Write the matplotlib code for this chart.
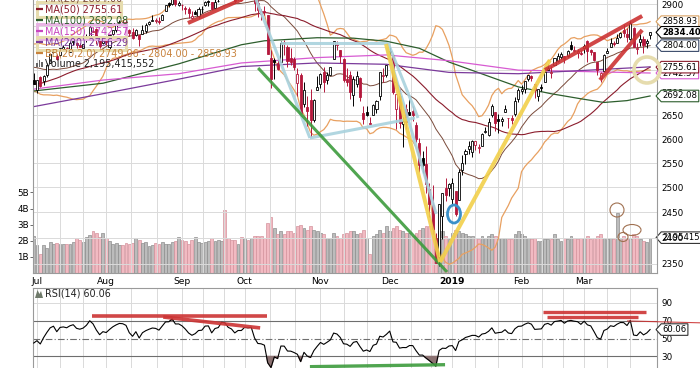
import numpy as np
import matplotlib
matplotlib.use("Agg")
import matplotlib.pyplot as plt
from matplotlib.path import Path
from matplotlib.patches import Ellipse, Rectangle, Polygon
import matplotlib.transforms as mtransforms
from matplotlib.ticker import NullLocator

# ---------------- data ----------------
warmup_closes = [  # Apr 2 .. Jun 28 2018 (for indicator warm-up only)
    2581.88, 2614.45, 2644.69, 2662.84, 2604.47, 2613.16, 2656.87, 2642.19, 2663.99, 2656.30,
    2677.84, 2706.39, 2708.64, 2693.13, 2670.14, 2670.29, 2634.56, 2639.40, 2666.94, 2669.91, 2648.05,
    2654.80, 2635.67, 2629.73, 2663.42, 2672.63, 2671.92, 2697.79, 2723.07, 2727.72, 2730.13, 2711.45,
    2722.46, 2720.13, 2712.97, 2733.01, 2724.44, 2733.29, 2727.76, 2721.33, 2689.86, 2724.01, 2705.27,
    2734.62, 2746.87, 2748.80, 2772.35, 2770.37, 2779.03, 2782.00, 2786.85, 2775.63, 2782.49, 2779.66,
    2773.75, 2762.59, 2767.32, 2749.76, 2754.88, 2717.07, 2723.06, 2699.63, 2716.31]

opens = [2727.13,
 2704.95, 2733.27, 2724.19, 2737.68, 2765.79, 2788.56, 2779.82, 2783.14, 2796.93, 2797.36, 2789.34, 2811.35, 2809.37, 2804.55, 2799.17, 2820.68, 2817.73, 2835.49, 2842.35, 2819.00, 2809.73,
 2821.17, 2800.48, 2829.62, 2840.29, 2855.92, 2856.79, 2857.19, 2838.90, 2835.46, 2827.88, 2827.95, 2831.44, 2838.32, 2853.93, 2861.51, 2860.99, 2860.29, 2862.35, 2884.69, 2901.45, 2900.62, 2908.94, 2898.37,
 2896.96, 2891.59, 2888.64, 2868.26, 2881.39, 2871.57, 2888.29, 2896.85, 2906.38, 2903.83, 2890.74, 2906.60, 2919.73, 2936.76, 2921.83, 2921.75, 2916.98, 2911.65, 2910.03,
 2926.29, 2923.80, 2931.69, 2919.35, 2902.54, 2877.53, 2882.51, 2873.90, 2776.87, 2770.54, 2763.83, 2767.05, 2811.67, 2802.00, 2775.66, 2773.94, 2721.03, 2737.87, 2674.88, 2667.86, 2682.65, 2640.68, 2705.60,
 2717.58, 2745.45, 2726.37, 2738.40, 2774.13, 2806.38, 2794.10, 2773.93, 2730.05, 2737.90, 2693.52, 2718.54, 2730.74, 2654.60, 2657.74, 2633.36, 2649.97, 2663.75, 2691.45, 2736.97, 2737.76,
 2790.50, 2782.43, 2663.51, 2691.26, 2630.86, 2664.44, 2658.23, 2658.70, 2629.68, 2590.75, 2559.90, 2547.05, 2496.77, 2465.38, 2400.56, 2363.12, 2442.50, 2498.77, 2498.94,
 2476.96, 2491.92, 2474.33, 2535.61, 2568.11, 2580.00, 2573.51, 2588.11, 2580.31, 2585.10, 2614.75, 2609.28, 2651.27, 2657.88, 2643.48, 2638.84, 2657.44, 2644.97, 2644.89, 2653.62, 2685.49,
 2702.32, 2706.49, 2728.34, 2735.05, 2717.53, 2692.36, 2712.40, 2722.61, 2750.30, 2743.50, 2760.24, 2769.28, 2779.05, 2780.67, 2780.24, 2804.35, 2792.36, 2787.50, 2788.11,
 2798.22, 2814.37, 2794.41, 2790.27, 2766.53, 2730.79, 2747.61, 2787.34, 2799.78, 2810.38, 2810.79, 2822.61, 2840.76, 2831.34, 2819.72, 2844.52, 2796.01, 2812.66, 2819.72, 2809.40, 2828.27]

highs = [2743.26,
 2727.26, 2736.58, 2737.83, 2764.41, 2784.65, 2795.58, 2785.91, 2799.22, 2804.53, 2801.19, 2814.19, 2816.76, 2812.05, 2809.70, 2808.61, 2829.99, 2848.03, 2845.57, 2843.17, 2821.74, 2824.46,
 2825.83, 2829.91, 2840.38, 2853.29, 2863.43, 2862.44, 2862.48, 2842.20, 2843.40, 2843.11, 2827.95, 2850.49, 2855.63, 2859.76, 2873.23, 2867.54, 2868.78, 2876.16, 2898.25, 2903.77, 2916.50, 2912.46, 2906.32,
 2900.18, 2894.21, 2892.05, 2883.81, 2886.93, 2892.52, 2894.65, 2906.76, 2908.30, 2904.65, 2911.17, 2912.36, 2934.80, 2940.91, 2923.79, 2923.95, 2931.15, 2927.22, 2920.53,
 2937.06, 2931.42, 2939.86, 2919.78, 2909.64, 2889.45, 2894.83, 2874.02, 2795.14, 2775.77, 2775.99, 2813.46, 2816.94, 2806.04, 2797.77, 2778.94, 2753.59, 2742.59, 2722.70, 2692.38, 2706.85, 2685.43, 2736.69,
 2741.67, 2756.55, 2744.27, 2756.82, 2815.15, 2814.75, 2794.10, 2775.99, 2754.60, 2746.80, 2735.38, 2746.75, 2733.16, 2669.44, 2670.73, 2647.55, 2674.35, 2682.53, 2744.00, 2753.75, 2760.88,
 2800.18, 2785.93, 2696.15, 2708.54, 2647.51, 2674.35, 2685.44, 2670.19, 2635.07, 2601.13, 2573.99, 2585.29, 2509.63, 2504.41, 2410.34, 2467.76, 2489.10, 2520.27, 2509.24,
 2519.49, 2493.14, 2538.07, 2566.16, 2579.82, 2595.32, 2597.82, 2596.27, 2589.32, 2613.08, 2625.76, 2645.06, 2675.47, 2657.88, 2653.19, 2647.20, 2672.38, 2644.97, 2650.93, 2690.44, 2708.95,
 2716.66, 2724.99, 2738.98, 2738.08, 2719.32, 2708.07, 2718.05, 2748.19, 2761.85, 2757.90, 2775.66, 2787.33, 2789.88, 2781.58, 2794.20, 2813.49, 2803.12, 2795.76, 2793.73,
 2808.02, 2816.88, 2796.44, 2790.27, 2767.25, 2744.13, 2784.00, 2798.32, 2821.24, 2815.00, 2830.73, 2835.41, 2852.42, 2843.54, 2860.31, 2846.16, 2809.79, 2829.87, 2825.56, 2819.71, 2836.03]

lows = [2718.03,
 2698.95, 2711.16, 2716.02, 2733.52, 2765.79, 2786.24, 2770.77, 2781.53, 2791.69, 2793.39, 2789.24, 2805.89, 2799.77, 2800.01, 2795.14, 2811.12, 2817.73, 2835.26, 2808.34, 2798.11, 2808.06,
 2805.85, 2796.34, 2827.37, 2835.98, 2855.92, 2853.09, 2851.98, 2825.81, 2819.88, 2826.58, 2802.49, 2831.44, 2833.73, 2850.62, 2861.32, 2856.05, 2854.03, 2862.35, 2884.69, 2893.50, 2898.40, 2895.22, 2895.77,
 2885.13, 2876.92, 2867.29, 2864.12, 2875.94, 2866.78, 2879.20, 2896.39, 2895.77, 2886.16, 2890.43, 2903.82, 2919.73, 2927.11, 2912.63, 2913.70, 2903.28, 2909.27, 2907.50,
 2917.91, 2919.37, 2921.36, 2883.92, 2869.29, 2862.08, 2874.27, 2784.86, 2710.51, 2729.44, 2749.03, 2766.91, 2781.81, 2755.18, 2760.27, 2749.22, 2691.43, 2651.89, 2667.84, 2628.16, 2603.54, 2635.34, 2705.60,
 2708.85, 2700.44, 2717.94, 2737.08, 2774.13, 2794.99, 2764.24, 2722.00, 2714.98, 2685.75, 2670.75, 2712.16, 2681.09, 2631.52, 2649.82, 2631.09, 2649.97, 2655.89, 2684.38, 2722.94, 2732.76,
 2773.38, 2697.18, 2621.53, 2623.14, 2583.23, 2621.30, 2650.26, 2637.27, 2593.84, 2530.54, 2528.71, 2488.96, 2441.18, 2408.55, 2351.10, 2346.58, 2397.94, 2472.89, 2482.82,
 2467.47, 2443.96, 2474.33, 2524.56, 2547.56, 2568.89, 2562.02, 2577.40, 2570.41, 2585.10, 2612.68, 2606.36, 2647.58, 2617.27, 2612.86, 2627.01, 2657.33, 2624.06, 2631.05, 2648.34, 2678.65,
 2696.88, 2698.75, 2724.03, 2724.15, 2687.26, 2681.83, 2703.79, 2722.61, 2748.63, 2731.23, 2760.24, 2767.29, 2774.06, 2764.55, 2779.11, 2794.99, 2789.47, 2775.13, 2782.51,
 2787.38, 2767.66, 2782.97, 2768.69, 2739.09, 2722.27, 2747.61, 2786.73, 2799.78, 2803.46, 2810.79, 2821.99, 2823.27, 2812.43, 2817.38, 2800.47, 2785.02, 2803.99, 2787.72, 2798.77, 2819.23]

closes = [2718.37,
 2726.71, 2713.22, 2736.61, 2759.82, 2784.17, 2793.84, 2774.02, 2798.29, 2801.31, 2798.43, 2809.55, 2815.62, 2804.49, 2801.83, 2806.98, 2820.40, 2846.07, 2837.44, 2818.82, 2802.60, 2816.29,
 2813.36, 2827.22, 2840.35, 2850.40, 2858.45, 2857.70, 2853.58, 2833.28, 2821.93, 2839.96, 2818.37, 2840.69, 2850.13, 2857.05, 2862.96, 2861.82, 2856.98, 2874.69, 2896.74, 2897.52, 2914.04, 2901.13, 2901.52,
 2896.72, 2888.60, 2878.05, 2871.68, 2877.13, 2887.89, 2888.92, 2904.18, 2904.98, 2888.80, 2904.31, 2907.95, 2930.75, 2929.67, 2919.37, 2915.56, 2905.97, 2914.00, 2913.98,
 2924.59, 2923.43, 2925.51, 2901.61, 2885.57, 2884.43, 2880.34, 2785.68, 2728.37, 2767.13, 2750.79, 2809.92, 2809.21, 2768.78, 2767.78, 2755.88, 2740.69, 2656.10, 2705.57, 2658.69, 2641.25, 2682.63, 2711.74,
 2740.37, 2723.06, 2738.31, 2755.45, 2813.89, 2806.83, 2781.01, 2726.22, 2722.18, 2701.58, 2730.20, 2736.27, 2690.73, 2641.89, 2649.93, 2632.56, 2673.45, 2682.17, 2743.79, 2737.80, 2760.17,
 2790.37, 2700.06, 2695.95, 2633.08, 2637.72, 2636.78, 2651.07, 2650.54, 2599.95, 2545.94, 2546.16, 2506.96, 2467.42, 2416.62, 2351.10, 2467.70, 2488.83, 2485.74, 2506.85,
 2510.03, 2447.89, 2531.94, 2549.69, 2574.41, 2584.96, 2596.64, 2596.26, 2582.61, 2610.30, 2616.10, 2635.96, 2670.71, 2632.90, 2638.70, 2642.33, 2664.76, 2643.85, 2640.00, 2681.05, 2704.10,
 2706.53, 2724.87, 2737.70, 2731.61, 2706.05, 2707.88, 2709.80, 2744.73, 2753.03, 2745.73, 2775.60, 2779.76, 2784.70, 2774.88, 2792.67, 2796.11, 2793.90, 2792.38, 2784.49,
 2803.69, 2792.81, 2789.65, 2771.45, 2748.93, 2743.07, 2783.30, 2791.52, 2810.92, 2808.48, 2822.48, 2832.94, 2832.57, 2824.23, 2854.88, 2800.71, 2798.36, 2818.46, 2805.37, 2815.44, 2834.40]

volumes_b = [  # billions of shares
 2.29, 1.77, 1.17, 1.71, 1.58, 1.92, 1.79, 1.88, 1.83, 1.83, 1.79, 1.83, 1.94, 2.15, 2.08, 1.94, 2.25, 2.35, 2.60, 2.46,
 2.25, 2.46, 2.15, 1.98, 1.83, 1.88, 1.71, 1.73, 1.85, 1.83, 1.88, 2.15, 2.04, 1.88, 1.94, 1.67, 1.73, 1.88, 1.83, 1.94,
 1.83, 1.83, 1.94, 1.98, 2.25, 2.04, 1.98, 1.83, 2.04, 2.21, 1.94, 1.88, 1.92, 1.98, 2.15, 1.98, 2.04, 2.00, 3.90, 2.15,
 2.08, 2.08, 1.83, 2.21,
 2.15, 2.08, 2.20, 2.30, 2.30, 2.30, 2.20, 3.10, 3.50, 2.80, 2.40, 2.60, 2.40, 2.60, 2.60, 2.50, 2.90, 3.00, 2.80, 2.70, 2.90, 2.70, 2.60,
 2.50, 2.40, 2.20, 2.20, 2.50, 2.30, 2.20, 2.40, 2.50, 2.60, 2.60, 2.40, 2.50, 2.70, 2.20, 1.20, 2.30, 2.40, 2.70, 2.50, 2.90,
 2.60, 2.80, 2.90, 2.70, 2.60, 2.50, 2.50, 2.30, 2.50, 2.70, 2.80, 2.90, 2.90, 3.80, 1.50, 2.60, 2.60, 2.30, 2.10,
 2.50, 2.70, 2.60, 2.50, 2.40, 2.30, 2.30, 2.20, 2.10, 2.30, 2.20, 2.30, 2.40, 2.30, 2.20, 2.20, 2.20, 2.10, 2.10, 2.40, 2.60,
 2.40, 2.30, 2.20, 2.10, 2.20, 2.00, 2.00, 2.10, 2.10, 2.10, 2.40, 2.10, 2.00, 2.20, 2.10, 2.30, 2.20, 2.10, 2.20,
 2.20, 2.30, 2.10, 2.20, 2.30, 2.40, 2.20, 2.10, 2.20, 2.10, 3.70, 2.20, 2.30, 2.20, 2.10, 2.40, 2.30, 2.10, 2.00, 1.90, 2.195]

# slow moving averages (trading-day index, value)
ma100_idx = [0, 21, 44, 63, 70, 86, 97, 107, 117, 126, 137, 147, 157, 166, 173, 180, 187]
ma100_vals = [2703, 2720, 2763, 2806, 2815, 2822, 2821, 2814, 2798, 2767, 2738, 2712, 2697, 2686, 2678, 2682, 2692.08]
ma150_idx = [0, 21, 44, 63, 86, 107, 126, 147, 166, 187]
ma150_vals = [2707, 2727, 2741, 2765, 2777, 2783, 2770, 2749, 2746, 2742.57]
ma200_idx = [0, 21, 44, 63, 86, 107, 126, 147, 166, 187]
ma200_vals = [2669, 2697, 2729, 2757, 2765, 2762, 2744, 2741, 2748, 2756.29]

month_idx = [1, 22, 45, 64, 87, 108, 127, 148, 167]
month_labels = ["Jul", "Aug", "Sep", "Oct", "Nov", "Dec", "2019", "Feb", "Mar"]

# hand-drawn trend lines: (idx0, price0, idx1, price1, colour, width)
price_trendlines = [
    (46.8, 2855.8, 66.2, 2921.3, "#cc3333", 2.9),
    (66.8, 2923.6, 83.8, 2602.1, "#a9d2dd", 2.2),
    (74.7, 2810.0, 107.5, 2810.0, "#a9d2dd", 2.2),
    (83.8, 2602.1, 115.7, 2644.6, "#a9d2dd", 2.2),
    (107.5, 2810.0, 116.6, 2644.6, "#a9d2dd", 2.2),
    (107.2, 2798.6, 122.1, 2447.0, "#a9d2dd", 2.2),
    (68.1, 2753.7, 125.4, 2334.8, "#3d9b3d", 2.2),
    (106.9, 2807.7, 123.3, 2353.7, "#f2d04a", 2.9),
    (123.3, 2353.7, 156.6, 2771.6, "#f2d04a", 2.9),
    (155.1, 2749.3, 184.6, 2872.1, "#cc3333", 2.9),
    (171.8, 2727.0, 184.6, 2839.7, "#cc3333", 2.9),
]
rsi_trendlines = [
    (17.7, 75.2, 70.8, 75.2, "#cc3333", 2.6),
    (39.3, 74.1, 68.7, 61.9, "#cc3333", 2.6),
    (154.5, 79.7, 185.8, 79.7, "#cc3333", 2.4),
    (155.7, 74.1, 183.3, 74.1, "#cc3333", 2.4),
    (180.0, 69.7, 202.2, 67.6, "#cc3333", 0.8),
    (83.8, 18.6, 124.8, 20.8, "#3d9b3d", 2.4),
]

# ---------------- indicators ----------------
closes_a = np.array(closes)
all_c = np.array(warmup_closes + closes)
nw = len(warmup_closes)
n = len(closes)
assert len(opens) == n and len(highs) == n and len(lows) == n and len(volumes_b) == n
x = np.arange(n)

def sma(k):
    return np.array([all_c[nw + i - k + 1: nw + i + 1].mean() for i in range(n)])

ma20 = sma(20)
sd20 = np.array([all_c[nw + i - 19: nw + i + 1].std() for i in range(n)])
bb_up = ma20 + 2 * sd20
bb_lo = ma20 - 2 * sd20
ma50 = sma(50)

d = np.diff(all_c)
g = np.clip(d, 0, None)
l_ = np.clip(-d, 0, None)
ag, al = g[:14].mean(), l_[:14].mean()
rsi_all = [np.nan] * 15
for k in range(14, len(d)):
    ag = (ag * 13 + g[k]) / 14
    al = (al * 13 + l_[k]) / 14
    rsi_all.append(100 - 100 / (1 + ag / al))
rsi = np.array(rsi_all[nw:])

prev = np.array([warmup_closes[-1]] + closes[:-1])
down = closes_a < prev

# ---------------- figure ----------------
W, H = 700, 368
fig = plt.figure(figsize=(7, 3.68), dpi=100)
plt.rcParams["font.family"] = ["DejaVu Sans"]

def fx(px):
    return px / W

def fy(py):
    return 1 - py / H

XL = (-0.21, 189.1)
RED = "#b4183c"
GRID = "#dadada"
FS = 6.3

ax = fig.add_axes([fx(33), fy(273), fx(657) - fx(33), fy(-21) - fy(273)])
axv = ax.twinx()
ax.set_zorder(3)
axv.set_zorder(2)
ax.patch.set_visible(False)

ax.set_yscale("log")
ax.set_ylim(2332.9, 2959.3)
ax.set_xlim(*XL)
ticks = list(range(2350, 2951, 50))
ax.yaxis.set_minor_locator(NullLocator())
ax.set_yticks(ticks)
ax.set_yticklabels([str(t) for t in ticks])
ax.yaxis.tick_right()
ax.tick_params(axis="y", length=0, pad=3, labelsize=FS)
ax.set_xticks(month_idx)
ax.set_xticklabels(month_labels)
ax.tick_params(axis="x", length=0, pad=3, labelsize=FS + 0.3)
for lab in ax.get_xticklabels():
    if lab.get_text() == "2019":
        lab.set_fontweight("bold")
for s in ax.spines.values():
    s.set_color("#9a9a9a")
    s.set_linewidth(0.8)
for s in axv.spines.values():
    s.set_visible(False)

# grid lines
grid_x = []
bounds = month_idx + [188]
for a, b in zip(bounds[:-1], bounds[1:]):
    grid_x += [a, a + (b - a) / 3, a + 2 * (b - a) / 3]
for gx in grid_x:
    ax.axvline(gx, color=GRID, lw=0.7, zorder=0)
for t in ticks:
    ax.axhline(t, color=GRID, lw=0.7, zorder=0)

# volume
axv.set_ylim(0, 18.26)
axv.set_xlim(*XL)
vcol = np.where(down, "#f2bac2", "#bcbcbc")
vedge = np.where(down, "#d4939d", "#8e8e8e")
axv.bar(x, volumes_b, width=0.86, color=vcol, edgecolor=vedge, linewidth=0.5)
axv.yaxis.tick_left()
axv.set_yticks([1, 2, 3, 4, 5])
axv.set_yticklabels(["1B", "2B", "3B", "4B", "5B"])
axv.tick_params(axis="y", length=2, width=0.6, pad=1, labelsize=FS, color="#555555")

# indicator lines
ax.plot(x, bb_up, color="#e8a060", lw=0.9, zorder=2)
ax.plot(x, bb_lo, color="#e8a060", lw=0.9, zorder=2)
ax.plot(x, ma20, color="#7a4a3a", lw=0.7, zorder=2)
ax.plot(x, ma50, color="#8b1c2c", lw=0.8, zorder=2)
ax.plot(ma100_idx, ma100_vals, color="#2d5e2d", lw=0.9, zorder=2)
ax.plot(ma150_idx, ma150_vals, color="#d75bd2", lw=0.9, zorder=2)
ax.plot(ma200_idx, ma200_vals, color="#7b3a9b", lw=0.9, zorder=2)

# candles
ccol = np.where(down, RED, "black")
ax.vlines(x, lows, highs, colors=ccol, lw=0.7, zorder=4)
o_a = np.array(opens)
body_lo = np.minimum(o_a, closes_a)
body_h = np.maximum(np.abs(closes_a - o_a), 0.8)
hollow = closes_a > o_a
face = [("white" if h else c) for h, c in zip(hollow, ccol)]
ax.bar(x, body_h, bottom=body_lo, width=0.62, color=face, edgecolor=ccol, linewidth=0.6, zorder=5)

# trend lines
for i0, p0, i1, p1, c, w in price_trendlines:
    ax.plot([i0, i1], [p0, p1], color=c, lw=w, solid_capstyle="butt", alpha=0.9, zorder=6, clip_on=False)

# ---------------- RSI panel ----------------
rax = fig.add_axes([fx(33), fy(392), fx(657) - fx(33), fy(288) - fy(392)])
rax.set_xlim(*XL)
rax.set_ylim(-9.7, 106.5)
for gx in grid_x:
    rax.axvline(gx, color=GRID, lw=0.7, zorder=0)
for lv in [10, 90]:
    rax.axhline(lv, color=GRID, lw=0.7, zorder=0)
rax.axhline(70, color="#6e6e6e", lw=0.8, zorder=1)
rax.axhline(30, color="#6e6e6e", lw=0.8, zorder=1)
rax.axhline(50, color="#6e6e6e", lw=0.8, ls=(0, (6, 2, 1, 2)), zorder=1)
rax.fill_between(x, rsi, 30, where=rsi < 30, interpolate=True, color="#8c7272", zorder=2)
rax.fill_between(x, rsi, 70, where=rsi > 70, interpolate=True, color="#8c7272", zorder=2)
rax.plot(x, rsi, color="black", lw=0.8, zorder=3)
rax.set_xticks([])
rax.yaxis.tick_right()
rax.set_yticks([30, 50, 70, 90])
rax.tick_params(axis="y", length=0, pad=3, labelsize=FS)
for s in rax.spines.values():
    s.set_color("#9a9a9a")
    s.set_linewidth(0.8)
rax.spines["bottom"].set_visible(False)
for i0, v0, i1, v1, c, w in rsi_trendlines:
    rax.plot([i0, i1], [v0, v1], color=c, lw=w, solid_capstyle="butt", alpha=0.9, zorder=6, clip_on=False)

# ---------------- value tags on the right ----------------
def tag_box(x0, y0, width, height, mutation_size):
    pad = 0.15 * mutation_size
    x0p, y0p = x0 - pad, y0 - pad
    w, h = width + 2 * pad, height + 2 * pad
    tip = h * 0.45
    verts = [(x0p, y0p), (x0p + w, y0p), (x0p + w, y0p + h), (x0p, y0p + h),
             (x0p - tip, y0p + h / 2), (x0p, y0p), (x0p, y0p)]
    codes = [Path.MOVETO] + [Path.LINETO] * 5 + [Path.CLOSEPOLY]
    return Path(verts, codes)

def tag(axis, val, text, ec, bold=False):
    tr = mtransforms.blended_transform_factory(axis.transAxes, axis.transData)
    tr = tr + mtransforms.ScaledTranslation(5.5 / 100, 0, fig.dpi_scale_trans)
    axis.text(1.0, val, text, transform=tr, ha="left", va="center", fontsize=6.1,
              fontweight="bold" if bold else "normal", clip_on=False, zorder=20,
              bbox=dict(boxstyle=tag_box, fc="white", ec=ec, lw=0.8))

tag(ax, 2692.08, "2692.08", "#2d5e2d")
tag(ax, 2742.57, "2742.57", "#d75bd2")
tag(ax, 2755.61, "2755.61", "#8b1c2c")
tag(ax, 2804.00, "2804.00", "#3a4a6a")
tag(ax, 2858.93, "2858.93", "#d9a060")
tag(ax, 2834.40, "2834.40", "black", bold=True)
tag(axv, volumes_b[-1], "2195415", "#333333")
tag(rax, rsi[-1], "%.2f" % rsi[-1], "#333333")

# ---------------- overlay (legend, highlights) ----------------
ov = fig.add_axes([0, 0, 1, 1])
ov.set_xlim(0, W)
ov.set_ylim(H, 0)
ov.axis("off")
ov.set_zorder(10)

legend_rows = [
    (-1.7, "MA(20) 2804.00", "#7a4a3a"),
    (9.0, "MA(50) 2755.61", "#8b1c2c"),
    (20.3, "MA(100) 2692.08", "#2d5e2d"),
    (31.3, "MA(150) 2742.57", "#c845c0"),
    (42.3, "MA(200) 2756.29", "#7b3a9b"),
    (53.2, "BB(20,2.0) 2749.06 - 2804.00 - 2858.93", "#c8823c"),
]
for yy, txt, col in legend_rows:
    ov.plot([36, 43], [yy, yy], color=col, lw=1.6, solid_capstyle="butt")
    ov.text(45, yy, txt, color=col, fontsize=FS + 0.6, va="center", ha="left")
for bx, bh in [(36, 4), (38.5, 7), (41, 5)]:
    ov.add_patch(Rectangle((bx, 67 - bh), 1.8, bh, color="#666666", lw=0))
ov.text(45, 63.5, "Volume 2,195,415,552", color="#222222", fontsize=FS + 0.6, va="center", ha="left")

# highlight boxes on legend
ov.add_patch(Rectangle((37, 2), 84, 15, fill=False, ec="#e6dcae", lw=2.2))
ov.add_patch(Rectangle((37, 24), 89, 15, fill=False, ec="#e8b4e4", lw=2.2))
ov.add_patch(Rectangle((37, 37), 89, 13, fill=False, ec="#e6dcae", lw=2.2))

# RSI label
ov.add_patch(Polygon([(35, 298), (37.5, 290), (39.5, 294), (41, 291), (43, 298)], closed=True,
                     color="#6f7a6a", lw=0))
ov.text(45, 293.5, "RSI(14) 60.06", fontsize=FS + 0.6, va="center", ha="left", color="#222222")

# circles
ov.add_patch(Ellipse((454, 214), 13, 18, fill=False, ec="#3a90c8", lw=2.0))
ov.add_patch(Ellipse((647, 70), 26, 26, fill=False, ec="#e6dcae", lw=2.6))
ov.add_patch(Ellipse((617, 210), 14, 14, fill=False, ec="#a07050", lw=0.8))
ov.add_patch(Ellipse((632, 230), 18, 11, fill=False, ec="#a07050", lw=0.8))
ov.add_patch(Ellipse((623, 237), 10, 9, fill=False, ec="#a07050", lw=0.8))

fig.savefig("out.png", dpi=100)
